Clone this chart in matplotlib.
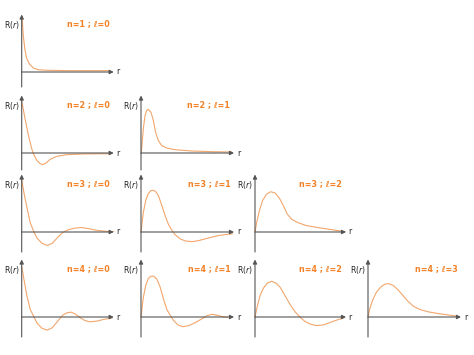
import matplotlib.pyplot as plt

# radial functions R(r)
# r: fraction of the r-axis length, R: fraction of the axis height above r=0
r_10 = [0.0, 0.004, 0.018, 0.036, 0.054, 0.083, 0.126, 0.18, 0.27, 0.49, 0.96]
R_10 = [0.94, 0.94, 0.62, 0.38, 0.24, 0.14, 0.07, 0.04, 0.03, 0.024, 0.024]

r_20 = [0.0, 0.036, 0.073, 0.109, 0.127, 0.164, 0.2, 0.229, 0.265, 0.309, 0.382, 0.491, 0.673, 0.964]
R_20 = [0.91, 0.60, 0.31, 0.075, -0.012, -0.127, -0.185, -0.202, -0.173, -0.11, -0.058, -0.029, -0.017, -0.012]

r_21 = [0.0, 0.007, 0.025, 0.043, 0.061, 0.079, 0.107, 0.132, 0.157, 0.186, 0.221, 0.275, 0.364, 0.543, 0.757, 0.971]
R_21 = [0.0, 0.075, 0.42, 0.65, 0.74, 0.757, 0.71, 0.57, 0.36, 0.22, 0.13, 0.087, 0.058, 0.035, 0.023, 0.017]

r_30 = [0.0, 0.026, 0.056, 0.093, 0.130, 0.167, 0.222, 0.278, 0.333, 0.389, 0.444, 0.5, 0.574, 0.648, 0.722, 0.815, 0.907, 1.0]
R_30 = [0.91, 0.67, 0.43, 0.16, 0.012, -0.108, -0.198, -0.234, -0.198, -0.096, -0.012, 0.036, 0.066, 0.078, 0.06, 0.03, 0.012, 0.006]

r_31 = [0.0, 0.025, 0.051, 0.079, 0.108, 0.134, 0.159, 0.188, 0.224, 0.260, 0.296, 0.332, 0.368, 0.422, 0.477, 0.549, 0.621, 0.729, 0.837, 0.982]
R_31 = [0.0, 0.34, 0.55, 0.67, 0.72, 0.725, 0.70, 0.63, 0.46, 0.28, 0.13, 0.03, -0.048, -0.12, -0.156, -0.168, -0.15, -0.102, -0.06, -0.03]

r_32 = [0.0, 0.018, 0.048, 0.084, 0.128, 0.172, 0.220, 0.267, 0.311, 0.355, 0.403, 0.476, 0.568, 0.714, 0.861, 0.989]
R_32 = [0.0, 0.16, 0.37, 0.55, 0.66, 0.70, 0.68, 0.59, 0.46, 0.31, 0.22, 0.16, 0.11, 0.072, 0.036, 0.006]

r_40 = [0.0, 0.026, 0.056, 0.093, 0.130, 0.167, 0.222, 0.278, 0.333, 0.389, 0.444, 0.489, 0.537, 0.581, 0.630, 0.685, 0.741, 0.815, 0.889, 0.981]
R_40 = [0.88, 0.64, 0.37, 0.13, 0.012, -0.108, -0.198, -0.228, -0.186, -0.078, 0.03, 0.072, 0.084, 0.054, -0.006, -0.06, -0.084, -0.072, -0.042, -0.018]

r_41 = [0.0, 0.025, 0.051, 0.079, 0.108, 0.137, 0.170, 0.206, 0.242, 0.278, 0.314, 0.350, 0.397, 0.448, 0.513, 0.585, 0.657, 0.711, 0.765, 0.819, 0.874, 0.928]
R_41 = [0.0, 0.34, 0.55, 0.67, 0.71, 0.71, 0.66, 0.52, 0.31, 0.13, 0.03, -0.06, -0.138, -0.168, -0.15, -0.096, -0.03, 0.024, 0.048, 0.03, 0.006, -0.006]

r_42 = [0.0, 0.026, 0.055, 0.092, 0.136, 0.183, 0.231, 0.275, 0.330, 0.385, 0.440, 0.495, 0.549, 0.612, 0.678, 0.751, 0.824, 0.897, 0.971]
R_42 = [0.0, 0.19, 0.37, 0.50, 0.59, 0.62, 0.59, 0.52, 0.37, 0.22, 0.09, 0.0, -0.078, -0.126, -0.15, -0.138, -0.096, -0.054, -0.018]

r_43 = [0.0, 0.022, 0.054, 0.090, 0.137, 0.180, 0.223, 0.270, 0.324, 0.378, 0.432, 0.486, 0.558, 0.647, 0.755, 0.863, 0.971]
R_43 = [0.0, 0.16, 0.31, 0.43, 0.52, 0.57, 0.58, 0.55, 0.47, 0.37, 0.27, 0.19, 0.13, 0.09, 0.06, 0.036, 0.012]

panels = [
    (1, 0, r_10, R_10),
    (2, 0, r_20, R_20), (2, 1, r_21, R_21),
    (3, 0, r_30, R_30), (3, 1, r_31, R_31), (3, 2, r_32, R_32),
    (4, 0, r_40, R_40), (4, 1, r_41, R_41), (4, 2, r_42, R_42), (4, 3, r_43, R_43),
]

# panel frames in pixels
W, H = 474, 355
col_x = [21.7, 141, 255, 368]
col_w = [92, 93, 91, 93]
row_top = [14.5, 95.5, 174.5, 259.5]
row_axis = [72, 153, 232, 317]
row_bot = [87, 170, 252, 337]

axis_color = '#555555'
curve_color = '#f2a66c'
title_color = '#f28228'

fig = plt.figure(figsize=(W / 100, H / 100), dpi=100)

for n, l, r, R in panels:
    i, j = n - 1, l
    ax = fig.add_axes([col_x[j] / W, 1 - row_bot[i] / H,
                       col_w[j] / W, (row_bot[i] - row_top[i]) / H])
    ylow = -(row_bot[i] - row_axis[i]) / (row_axis[i] - row_top[i])
    ax.set_xlim(0, 1)
    ax.set_ylim(ylow, 1)
    ax.axis('off')

    arrow = dict(arrowstyle='-|>', color=axis_color, lw=0.8,
                 mutation_scale=6, shrinkA=0, shrinkB=0)
    ax.annotate('', xy=(1, 0), xytext=(0, 0), arrowprops=arrow,
                annotation_clip=False)
    ax.annotate('', xy=(0, 1), xytext=(0, ylow), arrowprops=arrow,
                annotation_clip=False)

    ax.plot(r, R, color=curve_color, lw=0.8, clip_on=False)

    ax.text(1.03, 0, 'r', fontsize=5.5, ha='left', va='center',
            color='#222222')
    ax.text(-0.02, 0.82, r'R$\mathit{(r)}$', fontsize=5.5, ha='right',
            va='center', color='#222222')
    ax.text(0.96, 0.84, 'n=%d ; \u2113=%d' % (n, l), fontsize=5.8,
            fontweight='bold', ha='right', va='center', color=title_color)

fig.savefig('out.png', dpi=100)
